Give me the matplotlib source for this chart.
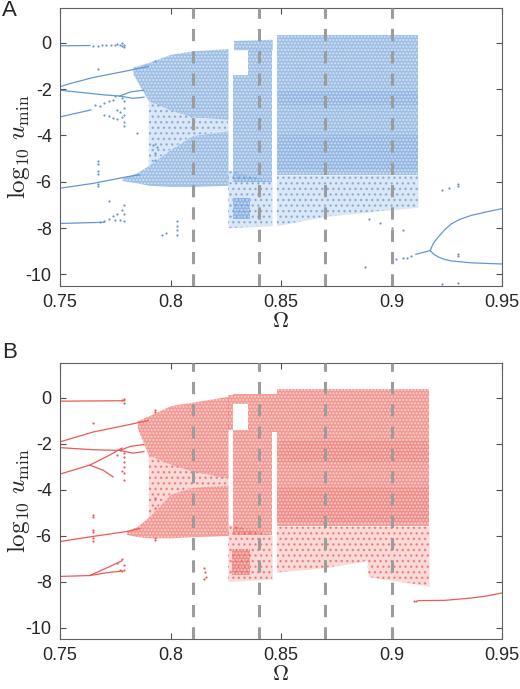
import matplotlib
matplotlib.use("Agg")
import matplotlib.pyplot as plt
import numpy as np

plt.rcParams['font.family'] = ['Liberation Sans', 'DejaVu Sans']
plt.rcParams['mathtext.fontset'] = 'cm'
plt.rcParams['hatch.linewidth'] = 1.0

BLUE = '#6396d6'
RED = '#ec5a52'

XTICKS = [0.75, 0.8, 0.85, 0.9, 0.95]
XTICKLABELS = ['0.75', '0.8', '0.85', '0.9', '0.95']
YTICKS = [0, -2, -4, -6, -8, -10]
YTICKLABELS = ['0', '-2', '-4', '-6', '-8', '-10']
MARKED_OMEGA = [0.81, 0.84, 0.87, 0.90]

# ---------------- Panel A: periodic branches (omega, log10 u_min) ----------------
A_b1_om = [0.75, 0.7635]; A_b1_y = [-0.13, -0.12]
A_b2_om = [0.75, 0.755, 0.765, 0.78, 0.79]; A_b2_y = [-1.9, -1.75, -1.5, -1.22, -1.02]
A_b3_om = [0.75, 0.76, 0.77, 0.777, 0.782, 0.788]; A_b3_y = [-2.05, -2.15, -2.25, -2.3, -2.12, -2.05]
A_b3b_om = [0.777, 0.783, 0.788]; A_b3b_y = [-2.3, -2.4, -2.35]
A_b4_om = [0.75, 0.757, 0.764]; A_b4_y = [-3.2, -3.05, -2.9]
A_b5_om = [0.75, 0.765, 0.78, 0.786]; A_b5_y = [-6.28, -6.07, -5.79, -5.7]
A_b6_om = [0.75, 0.77]; A_b6_y = [-7.8, -7.75]
A_b7_om = [0.911, 0.9175]; A_b7_y = [-9.13, -8.97]
A_b8_om = [0.9175, 0.919, 0.9212, 0.924, 0.9272, 0.931, 0.9362, 0.943, 0.95]
A_b8_y = [-8.97, -8.65, -8.38, -8.08, -7.81, -7.62, -7.45, -7.3, -7.16]
A_b9_om = [0.9175, 0.919, 0.9212, 0.924, 0.9272, 0.9362, 0.95]
A_b9_y = [-8.97, -9.12, -9.25, -9.35, -9.42, -9.5, -9.55]

# ---------------- Panel A: isolated points ----------------
A_dot_om = [0.765, 0.767, 0.769, 0.771, 0.773, 0.775, 0.776, 0.777, 0.778, 0.779, 0.779, 0.778,
            0.767, 0.767, 0.767, 0.767, 0.767, 0.767, 0.767,
            0.766, 0.768, 0.770, 0.772, 0.774, 0.775, 0.770, 0.772, 0.774, 0.776, 0.778, 0.777,
            0.779, 0.779, 0.779, 0.779, 0.779, 0.778, 0.776,
            0.768, 0.770, 0.772, 0.774, 0.776, 0.778, 0.779, 0.779, 0.779, 0.777, 0.775, 0.772,
            0.793, 0.792, 0.793, 0.794, 0.793, 0.785,
            0.796, 0.798, 0.803, 0.803, 0.803, 0.803,
            0.902, 0.905, 0.907, 0.909, 0.8878, 0.923, 0.926, 0.930, 0.930, 0.930, 0.930, 0.930, 0.923,
            0.895, 0.900, 0.905, 0.890]
A_dot_y = [-0.12, -0.12, -0.11, -0.11, -0.10, -0.10, -0.05, -0.10, -0.15, -0.10, -0.20, -0.02,
           -1.15, -5.10, -5.25, -5.55, -5.65, -6.10, -6.20,
           -2.70, -2.75, -2.60, -2.50, -2.45, -2.30, -3.10, -3.15, -3.25, -3.30, -3.20, -3.00,
           -2.50, -2.80, -3.10, -3.40, -3.60, -2.40, -2.90,
           -7.75, -7.70, -7.60, -7.50, -7.40, -7.20, -7.00, -7.40, -7.70, -7.65, -7.65, -6.85,
           -0.80, -4.40, -4.75, -4.50, -5.05, -3.90,
           -8.30, -8.20, -7.70, -7.90, -8.10, -8.30,
           -9.35, -9.30, -9.28, -9.20, -9.68, -6.36, -6.25, -6.10, -6.20, -9.10, -9.20, -10.35, -10.40,
           -7.80, -8.00, -8.10, -7.60]

# ---------------- Panel A: chaotic bands (omega, lower edge, upper edge) ----------------
A_fanup_om = [0.783, 0.79, 0.80, 0.81, 0.826]
A_fanup_lo = [-1.35, -2.5, -2.9, -3.2, -3.3]
A_fanup_hi = [-1.05, -0.85, -0.5, -0.35, -0.25]
A_fanlo_om = [0.778, 0.785, 0.79, 0.80, 0.81, 0.826]
A_fanlo_lo = [-5.95, -6.05, -6.15, -6.2, -6.2, -6.15]
A_fanlo_hi = [-5.85, -5.6, -5.3, -4.6, -4.0, -3.8]
A_fanmid_om = [0.79, 0.80, 0.81, 0.826]
A_fanmid_lo = [-5.3, -4.6, -4.0, -3.8]
A_fanmid_hi = [-2.5, -2.9, -3.2, -3.3]
A_coltop_om = [0.8285, 0.846]; A_coltop_lo = [-0.3, -0.3]; A_coltop_hi = [0.1, 0.15]
A_colL_om = [0.8285, 0.835]; A_colL_lo = [-6.0, -6.0]; A_colL_hi = [-1.4, -1.4]
A_colR_om = [0.835, 0.846]; A_colR_lo = [-6.0, -6.0]; A_colR_hi = [-0.3, -0.3]
A_colbot_om = [0.826, 0.846]; A_colbot_lo = [-8.0, -7.9]; A_colbot_hi = [-5.5, -6.0]
A_blob_om = [0.8285, 0.836]; A_blob_lo = [-7.6, -7.6]; A_blob_hi = [-6.7, -6.7]
A_main_om = [0.848, 0.912]; A_main_lo = [-5.7, -5.7]; A_main_hi = [0.35, 0.35]
A_mainbot_om = [0.848, 0.87, 0.89, 0.912]
A_mainbot_lo = [-7.9, -7.5, -7.3, -7.1]
A_mainbot_hi = [-5.7, -5.7, -5.7, -5.7]
A_den1_om = [0.848, 0.912]; A_den1_lo = [-2.7, -2.7]; A_den1_hi = [-2.1, -2.1]
A_den2_om = [0.848, 0.912]; A_den2_lo = [-5.5, -5.5]; A_den2_hi = [-4.0, -4.0]

# ---------------- Panel B: periodic branches ----------------
B_b1_om = [0.75, 0.7793]; B_b1_y = [-0.16, -0.14]
B_b2_om = [0.75, 0.765, 0.7798, 0.79]; B_b2_y = [-1.93, -1.5, -1.21, -1.0]
B_b3_om = [0.75, 0.765, 0.777, 0.782, 0.788]; B_b3_y = [-2.18, -2.27, -2.3, -2.12, -2.05]
B_b3b_om = [0.777, 0.783, 0.788]; B_b3b_y = [-2.3, -2.42, -2.35]
B_b4_om = [0.75, 0.7635, 0.7725, 0.778]; B_b4_y = [-3.33, -2.94, -2.5, -2.2]
B_b4b_om = [0.7635, 0.7695, 0.774]; B_b4b_y = [-2.94, -3.16, -3.45]
B_b5_om = [0.75, 0.765, 0.78, 0.786]; B_b5_y = [-6.26, -6.04, -5.83, -5.7]
B_b6_om = [0.75, 0.7635, 0.7725, 0.778]; B_b6_y = [-7.78, -7.74, -7.35, -7.1]
B_b6b_om = [0.7635, 0.7725, 0.778]; B_b6b_y = [-7.74, -7.6, -7.55]
B_b7_om = [0.912, 0.924, 0.936, 0.943, 0.95]; B_b7_y = [-8.83, -8.82, -8.72, -8.63, -8.5]

# ---------------- Panel B: isolated points ----------------
B_dot_om = [0.779, 0.779, 0.778,
            0.765, 0.765, 0.765, 0.765, 0.765, 0.765, 0.765,
            0.779, 0.779, 0.779, 0.779, 0.779, 0.779, 0.778, 0.777, 0.776,
            0.7928, 0.7928, 0.7928, 0.7928, 0.7928, 0.7928,
            0.776, 0.778, 0.779, 0.779, 0.778, 0.777,
            0.815, 0.8155, 0.816, 0.815,
            0.910, 0.911]
B_dot_y = [-0.05, -0.25, -0.10,
           -1.13, -5.10, -5.20, -5.75, -5.85, -6.10, -6.25,
           -2.40, -2.60, -2.80, -3.00, -3.30, -3.60, -3.20, -2.30, -2.50,
           -0.56, -0.62, -4.37, -4.80, -6.10, -6.20,
           -7.20, -7.00, -7.30, -7.50, -7.55, -7.50,
           -7.40, -7.60, -7.80, -7.90,
           -8.84, -8.84]

# ---------------- Panel B: chaotic bands ----------------
B_fanup_om = [0.785, 0.79, 0.80, 0.81, 0.826]
B_fanup_lo = [-1.35, -2.5, -2.9, -3.2, -3.5]
B_fanup_hi = [-1.0, -0.8, -0.35, -0.2, 0.05]
B_fanlo_om = [0.780, 0.785, 0.79, 0.80, 0.81, 0.826]
B_fanlo_lo = [-5.95, -6.05, -6.1, -6.1, -6.05, -6.0]
B_fanlo_hi = [-5.8, -5.6, -5.2, -4.2, -3.9, -3.8]
B_fanmid_om = [0.79, 0.80, 0.81, 0.826]
B_fanmid_lo = [-5.2, -4.2, -3.9, -3.8]
B_fanmid_hi = [-2.5, -2.9, -3.2, -3.5]
B_gaptop_om = [0.826, 0.8285]; B_gaptop_lo = [-1.4, -1.4]; B_gaptop_hi = [0.1, 0.1]
B_coltop_om = [0.8285, 0.846]; B_coltop_lo = [-0.3, -0.3]; B_coltop_hi = [0.15, 0.15]
B_colL_om = [0.8285, 0.835]; B_colL_lo = [-6.0, -6.0]; B_colL_hi = [-1.4, -1.4]
B_colR_om = [0.835, 0.846]; B_colR_lo = [-6.0, -6.0]; B_colR_hi = [-0.3, -0.3]
B_stripe_om = [0.846, 0.848]; B_stripe_lo = [-1.5, -1.5]; B_stripe_hi = [0.15, 0.15]
B_colbot_om = [0.826, 0.846]; B_colbot_lo = [-8.0, -7.9]; B_colbot_hi = [-5.5, -6.0]
B_blob_om = [0.828, 0.836]; B_blob_lo = [-7.7, -7.7]; B_blob_hi = [-6.6, -6.6]
B_main_om = [0.848, 0.917]; B_main_lo = [-5.6, -5.6]; B_main_hi = [0.35, 0.35]
B_mainbot_om = [0.848, 0.87, 0.889, 0.8895, 0.917]
B_mainbot_lo = [-7.6, -7.4, -7.1, -7.8, -8.2]
B_mainbot_hi = [-5.6, -5.6, -5.6, -5.6, -5.6]
B_den1_om = [0.848, 0.917]; B_den1_lo = [-2.8, -2.8]; B_den1_hi = [-1.9, -1.9]
B_den2_om = [0.848, 0.917]; B_den2_lo = [-5.4, -5.4]; B_den2_hi = [-3.9, -3.9]

DENSE, SPARSE, EXTRA = 0.62, 0.22, 0.18

A_bands = [(A_fanup_om, A_fanup_lo, A_fanup_hi, DENSE), (A_fanlo_om, A_fanlo_lo, A_fanlo_hi, DENSE),
           (A_fanmid_om, A_fanmid_lo, A_fanmid_hi, SPARSE), (A_coltop_om, A_coltop_lo, A_coltop_hi, DENSE),
           (A_colL_om, A_colL_lo, A_colL_hi, DENSE), (A_colR_om, A_colR_lo, A_colR_hi, DENSE),
           (A_colbot_om, A_colbot_lo, A_colbot_hi, SPARSE), (A_blob_om, A_blob_lo, A_blob_hi, DENSE),
           (A_main_om, A_main_lo, A_main_hi, DENSE), (A_mainbot_om, A_mainbot_lo, A_mainbot_hi, SPARSE),
           (A_den1_om, A_den1_lo, A_den1_hi, EXTRA), (A_den2_om, A_den2_lo, A_den2_hi, EXTRA)]
A_lines = [(A_b1_om, A_b1_y), (A_b2_om, A_b2_y), (A_b3_om, A_b3_y), (A_b3b_om, A_b3b_y),
           (A_b4_om, A_b4_y), (A_b5_om, A_b5_y), (A_b6_om, A_b6_y), (A_b7_om, A_b7_y),
           (A_b8_om, A_b8_y), (A_b9_om, A_b9_y)]
B_bands = [(B_fanup_om, B_fanup_lo, B_fanup_hi, DENSE), (B_fanlo_om, B_fanlo_lo, B_fanlo_hi, DENSE),
           (B_fanmid_om, B_fanmid_lo, B_fanmid_hi, SPARSE), (B_gaptop_om, B_gaptop_lo, B_gaptop_hi, DENSE),
           (B_coltop_om, B_coltop_lo, B_coltop_hi, DENSE), (B_colL_om, B_colL_lo, B_colL_hi, DENSE),
           (B_colR_om, B_colR_lo, B_colR_hi, DENSE), (B_stripe_om, B_stripe_lo, B_stripe_hi, DENSE),
           (B_colbot_om, B_colbot_lo, B_colbot_hi, SPARSE), (B_blob_om, B_blob_lo, B_blob_hi, DENSE),
           (B_main_om, B_main_lo, B_main_hi, DENSE), (B_mainbot_om, B_mainbot_lo, B_mainbot_hi, SPARSE),
           (B_den1_om, B_den1_lo, B_den1_hi, EXTRA), (B_den2_om, B_den2_lo, B_den2_hi, EXTRA)]
B_lines = [(B_b1_om, B_b1_y), (B_b2_om, B_b2_y), (B_b3_om, B_b3_y), (B_b3b_om, B_b3b_y),
           (B_b4_om, B_b4_y), (B_b4b_om, B_b4b_y), (B_b5_om, B_b5_y), (B_b6_om, B_b6_y),
           (B_b6b_om, B_b6b_y), (B_b7_om, B_b7_y)]

fig = plt.figure(figsize=(5.2, 6.89), dpi=100)
axA = fig.add_axes([60/520, 1-286/689, 442/520, 278/689])
axB = fig.add_axes([60/520, 1-639/689, 442/520, 276/689])


def draw(ax, bands, lines, dot_om, dot_y, color, letter, ytxt):
    for om, lo, hi, a in bands:
        ax.fill_between(om, lo, hi, color=color, alpha=a, lw=0, zorder=1)
        if a >= DENSE:
            ax.fill_between(om, lo, hi, facecolor='none', edgecolor='white', hatch='.....',
                            lw=0, alpha=0.55, zorder=1.5)
        elif a == SPARSE:
            ax.fill_between(om, lo, hi, facecolor='none', edgecolor=color, hatch='...',
                            lw=0, alpha=0.6, zorder=1.5)
    for om, y in lines:
        ax.plot(om, y, color=color, lw=0.9, zorder=2)
    ax.scatter(dot_om, dot_y, s=2.5, color=color, lw=0, zorder=2)
    for x in MARKED_OMEGA:
        ax.axvline(x, color='#9c9c9c', lw=2.2, dashes=(4, 3.3), zorder=3)
    ax.set_xlim(0.75, 0.95)
    ax.set_ylim(-10.5, 1.5)
    ax.set_xticks(XTICKS)
    ax.set_xticklabels(XTICKLABELS)
    ax.set_yticks(YTICKS)
    ax.set_yticklabels(YTICKLABELS)
    ax.tick_params(direction='in', top=True, right=True, length=4, width=0.8,
                   labelsize=13, colors='#505050', labelcolor='#262626', pad=6)
    for s in ax.spines.values():
        s.set_color('#606060')
        s.set_linewidth(0.8)
    ax.set_xlabel(r'$\Omega$', fontsize=16, labelpad=0, color='#262626')
    ax.set_ylabel(r'$\log_{10}\, u_{\min}$', fontsize=18, color='#262626')
    ax.yaxis.set_label_coords(-0.064, 0.5)
    fig.text(0.004, ytxt, letter, fontsize=16, va='top', ha='left', color='#262626')


draw(axA, A_bands, A_lines, A_dot_om, A_dot_y, BLUE, 'A', 1.0)
draw(axB, B_bands, B_lines, B_dot_om, B_dot_y, RED, 'B', 1-342/689)

fig.savefig('out.png', dpi=100)
